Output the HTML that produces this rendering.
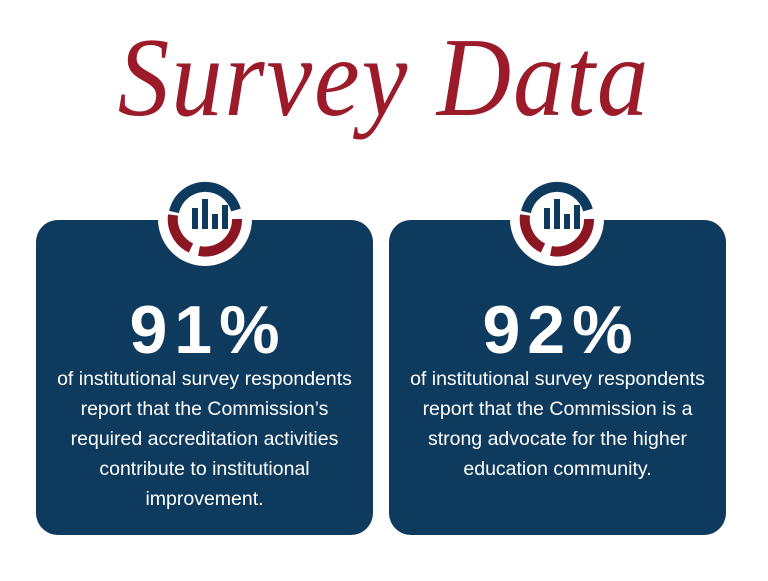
<!DOCTYPE html>
<html><head><style>
body{margin:0;width:768px;height:581px;background:#fff;position:relative;overflow:hidden;font-family:"Liberation Sans",sans-serif}
.title{position:absolute;left:0;width:768px;top:14px;text-align:center;font-family:"Liberation Serif",serif;font-style:italic;font-size:112px;color:#9b1b2a;letter-spacing:2px;font-weight:normal;transform:scaleX(0.92)}
.card{position:absolute;top:220px;width:337px;height:315px;background:#0e3a5e;border-radius:22px;color:#fff;text-align:center}
.pct{position:absolute;top:72px;left:0;width:100%;font-size:68px;font-weight:bold;letter-spacing:7px;line-height:76px;text-indent:7px}
.txt{position:absolute;top:144px;left:0;width:100%;font-size:19.5px;line-height:30px}
.icon{position:absolute;top:172px;width:94px;height:94px}
</style></head><body>
<div class="title">Survey Data</div>
<div class="card" style="left:36px"><div class="pct">91%</div><div class="txt">of institutional survey respondents<br>report that the Commission’s<br>required accreditation activities<br>contribute to institutional<br>improvement.</div></div>
<div class="card" style="left:389px"><div class="pct">92%</div><div class="txt">of institutional survey respondents<br>report that the Commission is a<br>strong advocate for the higher<br>education community.</div></div>
<svg class="icon" style="left:158px" viewBox="0 0 94 94"><circle cx="47" cy="47" r="47" fill="#fff"/>
<path d="M16 40 A32 32 0 0 1 78 38" fill="none" stroke="#0e3a5e" stroke-width="10"/>
<path d="M79 47 A32 32 0 0 1 41 79" fill="none" stroke="#8b1520" stroke-width="10"/>
<path d="M33 76 A32 32 0 0 1 15 43" fill="none" stroke="#8b1520" stroke-width="10"/>
<rect x="34" y="36" width="6" height="21" fill="#0e3a5e"/><rect x="44" y="27" width="6" height="30" fill="#0e3a5e"/><rect x="54" y="42" width="6" height="15" fill="#0e3a5e"/><rect x="64" y="33" width="6" height="24" fill="#0e3a5e"/></svg>
<svg class="icon" style="left:510px" viewBox="0 0 94 94"><circle cx="47" cy="47" r="47" fill="#fff"/>
<path d="M16 40 A32 32 0 0 1 78 38" fill="none" stroke="#0e3a5e" stroke-width="10"/>
<path d="M79 47 A32 32 0 0 1 41 79" fill="none" stroke="#8b1520" stroke-width="10"/>
<path d="M33 76 A32 32 0 0 1 15 43" fill="none" stroke="#8b1520" stroke-width="10"/>
<rect x="34" y="36" width="6" height="21" fill="#0e3a5e"/><rect x="44" y="27" width="6" height="30" fill="#0e3a5e"/><rect x="54" y="42" width="6" height="15" fill="#0e3a5e"/><rect x="64" y="33" width="6" height="24" fill="#0e3a5e"/></svg>
</body></html>
